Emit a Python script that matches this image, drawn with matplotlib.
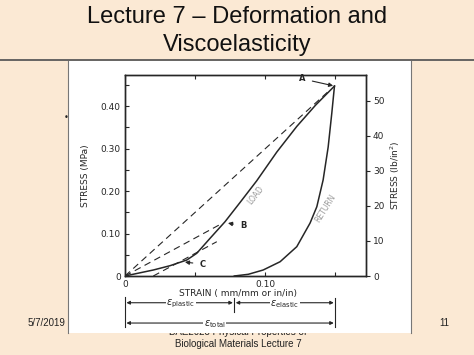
import numpy as np
import matplotlib.pyplot as plt
from matplotlib.patches import Rectangle
from matplotlib.lines import Line2D
import matplotlib.transforms as mtransforms

# loading curve (strain, stress MPa)
load_strain = [0.0, 0.010, 0.0202, 0.0321, 0.0441, 0.0512, 0.0607, 0.0714, 0.0821, 0.094, 0.1084, 0.1226, 0.1360, 0.1495]
load_stress = [0.0, 0.007, 0.0141, 0.0242, 0.0376, 0.0534, 0.0887, 0.1278, 0.1730, 0.224, 0.292, 0.352, 0.402, 0.447]

# return (unloading) curve
ret_strain = [0.1495, 0.1476, 0.145, 0.1414, 0.1369, 0.1321, 0.1226, 0.1107, 0.0986, 0.088, 0.078]
ret_stress = [0.447, 0.3835, 0.3035, 0.226, 0.163, 0.1247, 0.069, 0.0336, 0.0141, 0.004, 0.0]

# dashed construction lines
secant_A = ([0.0, 0.145], [0.0, 0.434])
secant_B = ([0.0, 0.0680], [0.0, 0.1215])
tangent_C = ([0.0202, 0.0655], [0.0, 0.0807])

point_A = (0.1495, 0.447)
point_B = (0.0725, 0.125)
point_C = (0.0418, 0.033)

eps_plastic = 0.078
eps_total = 0.150

yl_ticks = [0, 0.10, 0.20, 0.30, 0.40]
yl_labels = ["0", "0.10", "0.20", "0.30", "0.40"]
yr_ticks = [0, 10, 20, 30, 40, 50]
x_ticks = [0, 0.05, 0.10, 0.15]
x_labels = ["0", "", "0.10", ""]

peach = '#FBE9D4'
ink = '#262626'
W, H = 474, 355

fig = plt.figure(figsize=(4.74, 3.55), dpi=100)
fig.patch.set_facecolor(peach)

# slide title
fig.text(0.5, 1 - 17/H, "Lecture 7 \u2013 Deformation and", ha='center', va='center',
         fontsize=17, family='Liberation Sans', color='#111111')
fig.text(0.5, 1 - 45/H, "Viscoelasticity", ha='center', va='center',
         fontsize=17, family='Liberation Sans', color='#111111')
fig.add_artist(Line2D([0, 1], [1 - 59.5/H, 1 - 59.5/H], color='#5a5a5a', lw=1.3))

# footer
fig.text(28/W, 1 - 323/H, "5/7/2019", ha='left', va='center', fontsize=7,
         family='Liberation Sans', color='#222222')
fig.text(444/W, 1 - 323/H, "11", ha='center', va='center', fontsize=7,
         family='Liberation Sans', color='#222222')
fig.text(238/W, 1 - 332/H, "BAE2023 Physical Properties of", ha='center', va='center',
         fontsize=7, family='Liberation Sans', color='#222222', zorder=1)
fig.text(238/W, 1 - 344/H, "Biological Materials Lecture 7", ha='center', va='center',
         fontsize=7, family='Liberation Sans', color='#222222')
# slide bullet peeking out
fig.text(66/W, 1 - 118/H, "\u2022", ha='center', va='center', fontsize=6, color='#222222')

# white scanned picture
x0, x1, y0, y1 = 68/W, 411/W, 1 - 333/H, 1 - 60.5/H
fig.add_artist(Rectangle((x0, y0), x1 - x0, y1 - y0, transform=fig.transFigure,
                         facecolor='white', edgecolor='none', zorder=2))
for xx in (x0, x1):
    fig.add_artist(Line2D([xx, xx], [y0, y1], color='#777777', lw=0.8, zorder=3))

ax = fig.add_axes([125/W, 1 - 276/H, (366 - 125)/W, (276 - 75)/H])
ax.set_zorder(5)
ax.set_facecolor('white')
ax.set_xlim(0, 0.172)
ax.set_ylim(0, 0.473)

ax.plot(load_strain, load_stress, color=ink, lw=1.1)
ax.plot(ret_strain, ret_stress, color=ink, lw=1.1)
for xs, ys in (secant_A, secant_B, tangent_C):
    ax.plot(xs, ys, color=ink, lw=0.8, ls=(0, (6, 4)))

# A, B, C markers
ax.annotate("A", xy=point_A, xytext=(0.1265, 0.464), fontsize=6, fontweight='bold', color=ink,
            ha='center', va='center',
            arrowprops=dict(arrowstyle='-|>', color=ink, lw=0.8, mutation_scale=6,
                            shrinkA=3, shrinkB=1))
ax.annotate("B", xy=point_B, xytext=(0.0845, 0.118), fontsize=6, fontweight='bold', color=ink,
            ha='center', va='center',
            arrowprops=dict(arrowstyle='-|>', color=ink, lw=0.8, mutation_scale=6,
                            shrinkA=3, shrinkB=1))
ax.annotate("C", xy=point_C, xytext=(0.0555, 0.028), fontsize=6, fontweight='bold', color=ink,
            ha='center', va='center',
            arrowprops=dict(arrowstyle='-|>', color=ink, lw=0.8, mutation_scale=6,
                            shrinkA=3, shrinkB=1))

ax.text(0.093, 0.190, "LOAD", fontsize=5.5, color='#9a9a9a', rotation=52,
        ha='center', va='center')
ax.text(0.143, 0.160, "RETURN", fontsize=5.5, color='#9a9a9a', rotation=58,
        ha='center', va='center')

# axes, ticks
ax.set_yticks(yl_ticks)
ax.set_yticklabels(yl_labels)
ax.set_yticks(np.arange(0.05, 0.47, 0.10), minor=True)
ax.set_xticks(x_ticks)
ax.set_xticklabels(x_labels)
ax.tick_params(axis='both', which='both', direction='in', length=3, width=0.8,
               labelsize=6.5, colors=ink, pad=3)
ax.tick_params(axis='x', top=True)
ax.tick_params(axis='y', which='both', right=False)
for s in ax.spines.values():
    s.set_linewidth(1.0)
    s.set_color(ink)
ax.set_ylabel("STRESS (MPa)", fontsize=6.5, color=ink, labelpad=8)

ax2 = ax.twinx()
ax2.set_ylim(0, 57.4)
ax2.set_yticks(yr_ticks)
ax2.tick_params(axis='y', direction='out', length=3, width=0.8, labelsize=6.5,
                colors=ink, pad=2)
for s in ax2.spines.values():
    s.set_linewidth(1.0)
    s.set_color(ink)
ax2.set_ylabel("STRESS (lb/in$^2$)", fontsize=6.5, color=ink, labelpad=3)

# strain label and the epsilon dimension arrows below the axis
bt = mtransforms.blended_transform_factory(ax.transData, ax.transAxes)
ax.text(0.081, -0.085, "STRAIN ( mm/mm or in/in)", transform=bt,
        fontsize=6.5, color=ink, ha='center', va='center')
for xx, ya, yb in ((0.0, -0.104, -0.254), (eps_plastic, -0.11, -0.18), (eps_total, -0.11, -0.254)):
    ax.plot([xx, xx], [ya, yb], transform=bt, color=ink, lw=0.8, clip_on=False)

dims = [
    (0.0, eps_plastic, -0.133, r'$\epsilon_{\rm plastic}$', 0.040),
    (eps_plastic, eps_total, -0.133, r'$\epsilon_{\rm elastic}$', 0.114),
    (0.0, eps_total, -0.234, r'$\epsilon_{\rm total}$', 0.064),
]
for xa, xb, yy, lab, xl in dims:
    ax.annotate("", xy=(xa + 0.001, yy), xytext=(xb - 0.001, yy), xycoords=bt, textcoords=bt,
                arrowprops=dict(arrowstyle='<|-|>', color=ink, lw=0.8, mutation_scale=5,
                                shrinkA=0, shrinkB=0), annotation_clip=False)
    ax.text(xl, yy - 0.005, lab, transform=bt, fontsize=7, color=ink, ha='center', va='center',
            bbox=dict(facecolor='white', edgecolor='none', pad=0.5))

fig.savefig("out.png", dpi=100, facecolor=fig.get_facecolor())
